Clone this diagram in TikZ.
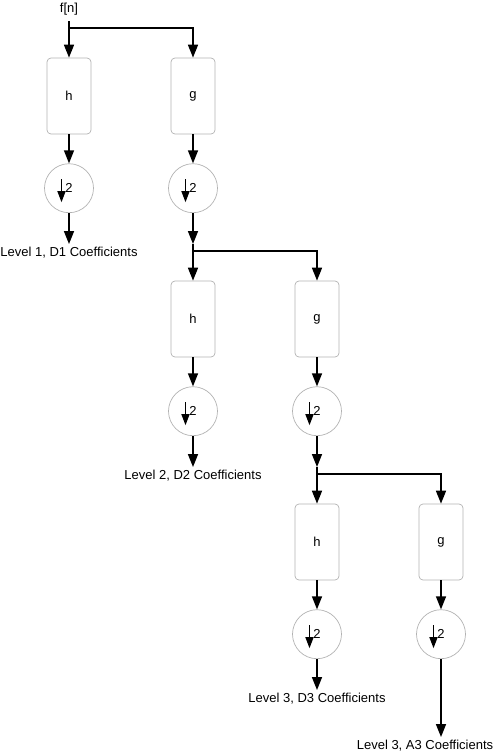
\documentclass[tikz,border=0pt]{standalone}
\usepackage{fontspec}
\setmainfont{Liberation Sans}
\usetikzlibrary{shapes,arrows.meta,positioning}
\tikzstyle{filtro} = [draw=black!30, rounded corners=4pt, minimum width=44pt, minimum height=76pt, line width=0.7pt]
\tikzstyle{diezmo} = [draw=black!30, circle, minimum size=49pt, inner sep=0pt, line width=0.7pt]
\tikzstyle{flecha} = [line width=1.5pt, -{Triangle[length=13pt,width=10pt]}]
\tikzstyle{linea} = [line width=1.5pt]
\tikzstyle{etiqueta} = [inner sep=0pt]
\newcommand{\baja}[1]{\draw[line width=1.5pt, -{Triangle[length=11pt,width=8pt]}] (#1.center) ++(-7.5,-9) -- ++(0,23);}
\begin{document}
\begin{tikzpicture}[x=1pt, y=-1pt, every node/.style={font=\fontsize{13}{15}\selectfont}]
\useasboundingbox (0,0) rectangle (501,753);
% nivel 1
\node[etiqueta] (fn) at (69,9) {f[n]};
\coordinate (r0) at (69,28);
\node[filtro] (h1) at (69,96) {h};
\node[filtro] (g1) at (193,96) {g};
\node[diezmo, below=29pt of h1] (d1h) {2};
\node[diezmo, below=29pt of g1] (d1g) {2};
\baja{d1h} \baja{d1g}
\draw[linea] (fn.south) ++(0,6) -- (r0);
\draw[flecha] (r0) -- (h1);
\draw[flecha] (r0) -| (g1);
\draw[flecha] (h1) -- (d1h);
\draw[flecha] (g1) -- (d1g);
\draw[flecha] (d1h.south) -- ++(0,31) coordinate (s1h);
\node[etiqueta, below=3pt of s1h] (e1) {Level 1, D1 Coefficients};
\draw[flecha] (d1g.south) -- ++(0,31) coordinate (s1g);
% nivel 2
\coordinate (r1) at (193,251);
\node[filtro] (h2) at (193,319) {h};
\node[filtro] (g2) at (317,319) {g};
\node[diezmo, below=29pt of h2] (d2h) {2};
\node[diezmo, below=29pt of g2] (d2g) {2};
\baja{d2h} \baja{d2g}
\draw[flecha] (s1g) -- (h2);
\draw[flecha] (r1) -| (g2);
\draw[flecha] (h2) -- (d2h);
\draw[flecha] (g2) -- (d2g);
\draw[flecha] (d2h.south) -- ++(0,31) coordinate (s2h);
\node[etiqueta, below=3pt of s2h] (e2) {Level 2, D2 Coefficients};
\draw[flecha] (d2g.south) -- ++(0,31) coordinate (s2g);
% nivel 3
\coordinate (r2) at (317,474);
\node[filtro] (h3) at (317,542) {h};
\node[filtro] (g3) at (441,542) {g};
\node[diezmo, below=29pt of h3] (d3h) {2};
\node[diezmo, below=29pt of g3] (d3g) {2};
\baja{d3h} \baja{d3g}
\draw[flecha] (s2g) -- (h3);
\draw[flecha] (r2) -| (g3);
\draw[flecha] (h3) -- (d3h);
\draw[flecha] (g3) -- (d3g);
\draw[flecha] (d3h.south) -- ++(0,31) coordinate (s3h);
\node[etiqueta, below=3pt of s3h] (e3) {Level 3, D3 Coefficients};
\draw[flecha] (d3g.south) -- ++(0,78) coordinate (s3g);
\node[etiqueta, below=3pt of s3g, xshift=-16pt] (e4) {Level 3, A3 Coefficients};
\end{tikzpicture}
\end{document}
